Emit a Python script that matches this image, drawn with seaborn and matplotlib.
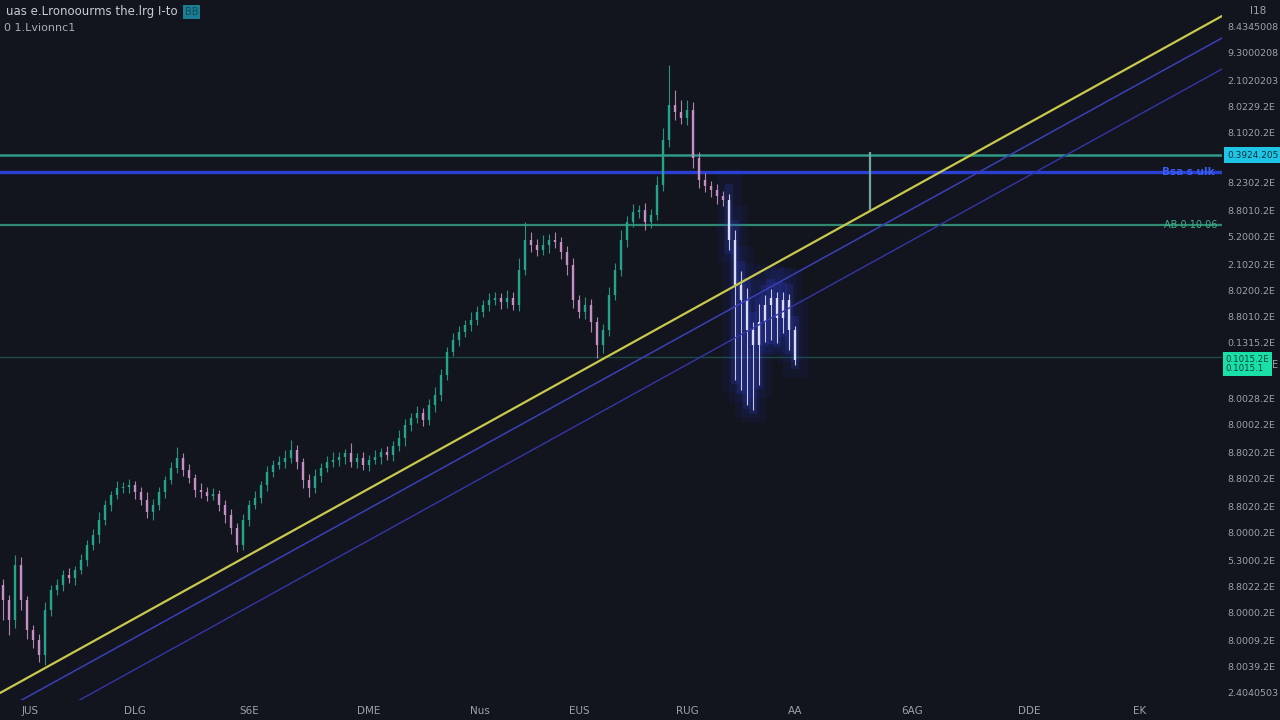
#!/usr/bin/env python3
"""
Dark candlestick chart with trend channel and horizontal levels.
"""

import matplotlib

matplotlib.use("Agg")
import matplotlib.pyplot as plt
import numpy as np
import pandas as pd
import seaborn as sns  # type: ignore

# --- data (prices) ---
closes = [
    120, 100, 155, 120, 90, 80, 65, 110, 130, 135,
    145, 142, 150, 160, 175, 185, 200, 215, 225, 232,
    233, 235, 228, 220, 208, 215, 228, 240, 252, 262,
    250, 242, 230, 228, 224, 226, 215, 205, 192, 175,
    200, 215, 222, 235, 248, 255, 258, 262, 270, 258,
    240, 232, 244, 252, 258, 260, 263, 267, 258, 262,
    255, 260, 263, 268, 265, 274, 282, 295, 302, 307,
    300, 315, 325, 345, 368, 380, 388, 395, 400, 408,
    415, 420, 422, 418, 422, 415, 450, 480, 475, 470,
    475, 480, 478, 468, 455, 420, 408, 415, 398, 375,
    390, 425, 450, 480, 498, 508, 510, 498, 505, 535,
    580, 615, 608, 602, 610, 562, 540, 534, 530, 524,
    520, 480, 435, 420, 390, 375, 398, 415, 422, 402,
    420, 390, 360,
]
wick_up = [
    6, 5, 10, 8, 4, 5, 6, 8, 5, 6,
    5, 7, 4, 6, 5, 6, 8, 5, 4, 7,
    5, 6, 4, 5, 8, 6, 5, 4, 6, 11,
    5, 6, 4, 7, 5, 6, 4, 5, 6, 5,
    6, 5, 7, 4, 6, 5, 6, 8, 10, 5,
    4, 6, 7, 5, 6, 8, 5, 4, 10, 5,
    6, 5, 7, 4, 6, 5, 8, 6, 5, 7,
    5, 6, 8, 6, 5, 7, 6, 5, 8, 6,
    5, 7, 6, 5, 8, 6, 12, 18, 8, 6,
    10, 6, 8, 5, 6, 7, 5, 8, 6, 5,
    6, 8, 7, 10, 6, 8, 5, 7, 6, 9,
    12, 40, 15, 12, 10, 8, 6, 7, 5, 6,
    5, 6, 10, 14, 12, 8, 18, 10, 9, 6,
    8, 6, 4,
]
wick_dn = [
    20, 15, 8, 10, 9, 8, 7, 10, 6, 5,
    6, 5, 7, 4, 6, 5, 8, 5, 6, 4,
    5, 6, 7, 5, 6, 8, 5, 6, 4, 5,
    6, 5, 7, 6, 5, 4, 6, 8, 6, 7,
    5, 6, 4, 5, 6, 5, 4, 6, 5, 7,
    8, 9, 5, 6, 4, 5, 6, 7, 5, 6,
    5, 6, 4, 7, 5, 6, 5, 8, 6, 5,
    6, 5, 7, 6, 5, 4, 6, 5, 6, 5,
    5, 6, 5, 7, 6, 5, 6, 5, 7, 6,
    5, 8, 6, 7, 10, 8, 6, 7, 10, 13,
    8, 6, 5, 6, 7, 5, 6, 8, 6, 5,
    6, 7, 8, 6, 7, 10, 8, 6, 7, 8,
    6, 10, 95, 90, 75, 65, 40, 20, 35, 25,
    15, 20, 5,
]
glow_start = 121  # bars from here on sit in the blue glow

# trend channel anchors (bar index, price)
trend_x = [-0.5, 203.2]
yellow_y = [27, 704]
blue_a_y = [8, 682]
blue_b_y = [-24, 651]

# horizontal levels
level_prices = [565, 548, 495, 363]
level_colors = ["#2f9a86", "#2b3fd2", "#2e8a70", "#1e4a46"]
level_widths = [1.8, 2.4, 1.6, 1.0]

marker_bar = 144.5
marker_span = [510, 568]

price_ticks = [693, 667, 640, 614, 587, 537, 510, 483, 456, 430, 403, 377,
               322, 295, 268, 241, 214, 187, 160, 133, 107, 80, 53, 27]
price_labels = [
    "8.4345008", "9.3000208", "2.1020203", "8.0229.2E", "8.1020.2E",
    "8.2302.2E", "8.8010.2E", "5.2000.2E", "2.1020.2E", "8.0200.2E",
    "8.8010.2E", "0.1315.2E", "8.0028.2E", "8.0002.2E", "8.8020.2E",
    "8.8020.2E", "8.8020.2E", "8.0000.2E", "5.3000.2E", "8.8022.2E",
    "8.0000.2E", "8.0009.2E", "8.0039.2E", "2.4040503",
]
date_ticks = [4.5, 22, 41, 61, 79.5, 96, 114, 132, 151.5, 171, 189.5]
date_labels = ["JUS", "DLG", "S6E", "DME", "Nus", "EUS",
               "RUG", "AA", "6AG", "DDE", "EK"]

bg = "#12151e"
sns.set_theme(style="dark", rc={
    "axes.facecolor": bg,
    "figure.facecolor": bg,
    "axes.grid": False,
})
plt.rcParams["font.family"] = ["DejaVu Sans"]

fig = plt.figure(figsize=(12.8, 7.2), dpi=100)
ax = fig.add_axes([0, 20 / 720, 1222 / 1280, 700 / 720])

# candles
c = np.array(closes, dtype=float)
o = np.concatenate([[c[0] + 15], c[:-1]])
hi = np.maximum(o, c) + np.array(wick_up)
lo = np.minimum(o, c) - np.array(wick_dn)
x = np.arange(len(c))

# blue glow behind the last leg
g = x >= glow_start
ax.vlines(x[g], lo[g] - 12, hi[g] + 25, color="#2f3fe0", lw=18, alpha=0.07)
ax.vlines(x[g], lo[g] - 4, hi[g] + 10, color="#3848f0", lw=6, alpha=0.16)

up = c >= o
colors = np.where(up, "#26a489", "#c58fc6").astype(object)
colors[g] = "#d9dcf5"
ax.vlines(x, lo, hi, colors=list(colors), lw=0.8, alpha=0.9)
ax.vlines(x, np.minimum(o, c), np.maximum(o, c), colors=list(colors), lw=1.7)

# trend channel
trend = pd.DataFrame({
    "x": trend_x * 3,
    "y": yellow_y + blue_a_y + blue_b_y,
    "line": ["yellow"] * 2 + ["blue_a"] * 2 + ["blue_b"] * 2,
})
sns.lineplot(data=trend, x="x", y="y", hue="line", ax=ax, legend=False,
             palette={"yellow": "#c9c94d", "blue_a": "#3b3fb8", "blue_b": "#3436a8"},
             size="line", sizes={"yellow": 1.6, "blue_a": 1.1, "blue_b": 1.0})

# horizontal levels
for p, col, w in zip(level_prices, level_colors, level_widths):
    ax.axhline(p, color=col, lw=w, zorder=1)
ax.vlines(marker_bar, marker_span[0], marker_span[1], color="#6fa898", lw=1.6)

yt = ax.get_yaxis_transform()
ax.text(0.994, level_prices[1], "Bsa s ulk", transform=yt, ha="right",
        va="center", color="#3a5cf0", fontsize=7.5, fontweight="bold")
ax.text(0.996, level_prices[2], "AB 0 10 06", transform=yt, ha="right",
        va="center", color="#3fb08a", fontsize=7)

ax.text(1.004, level_prices[0], "0.3924.205", transform=yt, ha="left",
        va="center", color="#0c3140", fontsize=6.5, clip_on=False,
        bbox=dict(boxstyle="square,pad=0.35", fc="#1ec5e5", ec="none"))
ax.text(1.003, level_prices[3] - 7, "0.1015.2E\n0.1015.1", transform=yt,
        ha="left", va="center", color="#0c4034", fontsize=6.2, clip_on=False,
        linespacing=1.1,
        bbox=dict(boxstyle="square,pad=0.3", fc="#19dfa9", ec="none"))
ax.text(1.041, level_prices[3] - 8, "E", transform=yt, ha="left",
        va="center", color="#9ba1ab", fontsize=7, clip_on=False)

ax.set_xlim(trend_x[0], trend_x[1])
ax.set_ylim(20, 720)
ax.yaxis.tick_right()
ax.set_yticks(price_ticks)
ax.set_yticklabels(price_labels)
ax.set_xticks(date_ticks)
ax.set_xticklabels(date_labels)
ax.tick_params(axis="both", length=0, labelsize=7.5, labelcolor="#9ba1ab")
ax.tick_params(axis="y", pad=4, labelsize=6.8)
ax.tick_params(axis="x", pad=4)
ax.set_xlabel("")
ax.set_ylabel("")
for s in ax.spines.values():
    s.set_visible(False)

# header
fig.text(6 / 1280, 1 - 12 / 720, "uas e.Lronoourms the.lrg I-to",
         color="#c9ccd3", fontsize=8.5, va="center")
fig.text(185 / 1280, 1 - 12 / 720, "BB", color="#0e4c5a", fontsize=7,
         va="center", bbox=dict(boxstyle="square,pad=0.2", fc="#1b7d93", ec="none"))
fig.text(4 / 1280, 1 - 28 / 720, "0 1.Lvionnc1", color="#a9adb6",
         fontsize=8, va="center")
fig.text(1258 / 1280, 1 - 11 / 720, "I18", color="#9ba1ab", fontsize=7.5,
         va="center", ha="center")

fig.savefig("out.png", dpi=100, facecolor=bg)
